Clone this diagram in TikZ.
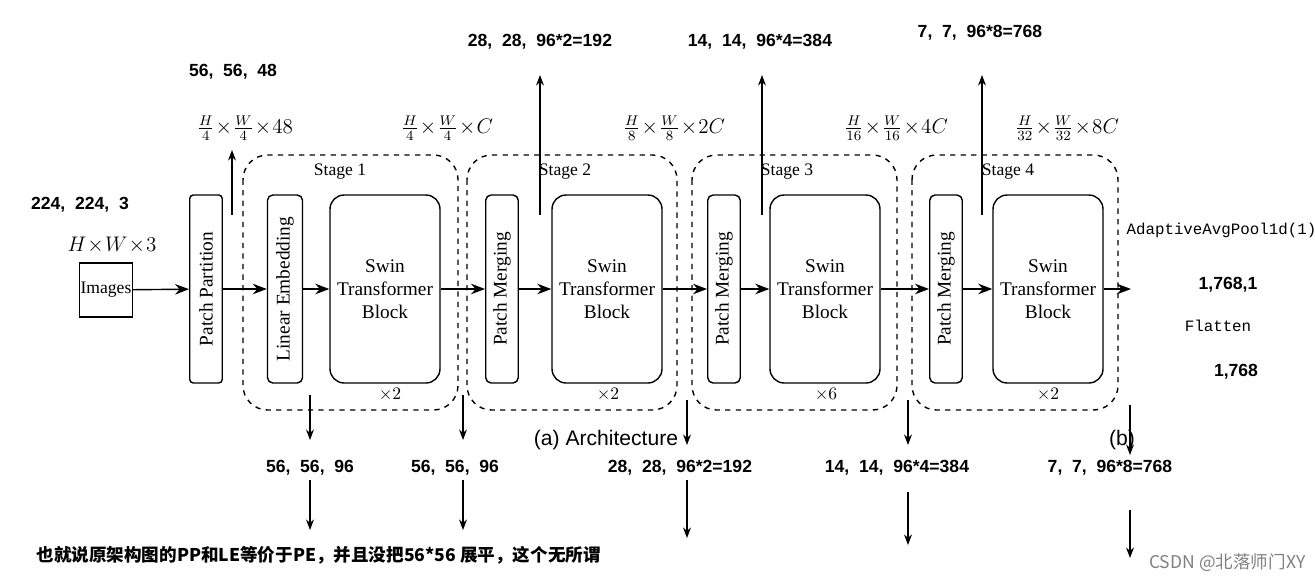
\documentclass[tikz,border=0pt]{standalone}
\usepackage{fontspec}
\newfontfamily\cjk{Noto Sans CJK SC}
\newfontfamily\lsans{Liberation Sans}
\newfontfamily\lmono{Liberation Mono}
\newfontfamily\lserif{Liberation Serif}
\usetikzlibrary{arrows.meta}

\begin{document}
\begin{tikzpicture}[x=0.02cm, y=-0.02cm, every path/.style={thick},
    blk/.style={draw, thick, rounded corners=3pt, inner sep=0pt, font=\lserif\fontsize{11}{13}\selectfont},
    thin/.style={blk, minimum width=0.65cm, minimum height=3.76cm},
    swin/.style={blk, minimum width=2.2cm, minimum height=3.76cm, rounded corners=8pt, align=center, text width=2.2cm},
    stage/.style={draw, thick, dashed, rounded corners=14pt},
    dim/.style={font=\bfseries\lsans},
    shp/.style={font=\lserif\fontsize{10}{12}\selectfont},
    arr/.style={-{Stealth[length=8pt]}},
    arrt/.style={-{Stealth[length=6pt]}, semithick}]
    \useasboundingbox (0,0) rectangle (1315,582);

    % stages
    \draw[stage] (243,155) rectangle (458,410);
    \draw[stage] (467,155) rectangle (677,410);
    \draw[stage] (692,155) rectangle (897,410);
    \draw[stage] (912,155) rectangle (1118,410);
    \node[shp] (s1) at (340,172) {Stage 1};
    \node[shp] (s2) at (565,172) {Stage 2};
    \node[shp] (s3) at (787,172) {Stage 3};
    \node[shp] (s4) at (1008,172) {Stage 4};

    % blocks
    \node[blk, sharp corners, minimum width=1.06cm, minimum height=1.08cm, font=\lserif\fontsize{10}{12}\selectfont] (img) at (106,290) {Images};
    \node[thin, rounded corners=2pt] (pp) at (206,289) {\rotatebox{90}{Patch Partition}};
    \node[thin, minimum width=0.7cm] (le) at (285,289) {\rotatebox{90}{Linear Embedding}};
    \node[swin] (sw1) at (385,289) {Swin\\Transformer\\Block};
    \node[thin] (pm2) at (502,289) {\rotatebox{90}{Patch Merging}};
    \node[swin] (sw2) at (607,289) {Swin\\Transformer\\Block};
    \node[thin] (pm3) at (724,289) {\rotatebox{90}{Patch Merging}};
    \node[swin] (sw3) at (825,289) {Swin\\Transformer\\Block};
    \node[thin] (pm4) at (946,289) {\rotatebox{90}{Patch Merging}};
    \node[swin] (sw4) at (1048,289) {Swin\\Transformer\\Block};
    \node[shp] (r1) at (390,395) {$\times2$};
    \node[shp] (r2) at (608,395) {$\times2$};
    \node[shp] (r3) at (826,395) {$\times6$};
    \node[shp] (r4) at (1048,395) {$\times2$};

    % main flow
    \coordinate (out) at (1131,289);
    \draw[arr] (img) -- (pp);
    \draw[arr] (pp) -- (le);
    \draw[arr] (le) -- (sw1);
    \draw[arr] (sw1) -- (pm2);
    \draw[arr] (pm2) -- (sw2);
    \draw[arr] (sw2) -- (pm3);
    \draw[arr] (pm3) -- (sw3);
    \draw[arr] (sw3) -- (pm4);
    \draw[arr] (pm4) -- (sw4);
    \draw[arr] (sw4) -- (out);

    % shapes
    \node[font=\large] (hw) at (112,245) {$H\!\times\!W\!\times\!3$};
    \node[font=\large] (f1) at (245,128) {$\frac{H}{4}\!\times\!\frac{W}{4}\!\times\!48$};
    \node[font=\large] (f2) at (447,128) {$\frac{H}{4}\!\times\!\frac{W}{4}\!\times\!C$};
    \node[font=\large] (f3) at (674,128) {$\frac{H}{8}\!\times\!\frac{W}{8}\!\times\!2C$};
    \node[font=\large] (f4) at (896,128) {$\frac{H}{16}\!\times\!\frac{W}{16}\!\times\!4C$};
    \node[font=\large] (f5) at (1067,128) {$\frac{H}{32}\!\times\!\frac{W}{32}\!\times\!8C$};

    % upward taps
    \foreach \n/\x/\y in {u1/232/150, u2/540/75, u3/762/75, u4/982/75} {
      \coordinate (\n a) at (\x,215);
      \coordinate (\n b) at (\x,\y);
      \draw[arrt] (\n a) -- (\n b);
    }
    \node[dim] (d0) at (80,205) {224,\ \ 224,\ \ 3};
    \node[dim] (d1) at (233,72) {56,\ \ 56,\ \ 48};
    \node[dim] (d2) at (540,42) {28,\ \ 28,\ \ 96*2=192};
    \node[dim] (d3) at (760,42) {14,\ \ 14,\ \ 96*4=384};
    \node[dim] (d4) at (980,33) {7,\ \ 7,\ \ 96*8=768};

    % downward taps
    \foreach \n/\x/\a/\b/\c/\d in {v1/310/395/440/480/530, v2/463/395/440/480/530, v3/687/400/445/480/538, v4/908/400/445/492/545, v5/1130/405/455/510/558} {
      \coordinate (\n a) at (\x,\a);
      \coordinate (\n b) at (\x,\b);
      \coordinate (\n c) at (\x,\c);
      \coordinate (\n d) at (\x,\d);
      \draw[arrt] (\n a) -- (\n b);
      \draw[arrt] (\n c) -- (\n d);
    }
    \node[dim] (e1) at (310,468) {56,\ \ 56,\ \ 96};
    \node[dim] (e2) at (455,468) {56,\ \ 56,\ \ 96};
    \node[dim] (e3) at (680,468) {28,\ \ 28,\ \ 96*2=192};
    \node[dim] (e4) at (897,468) {14,\ \ 14,\ \ 96*4=384};
    \node[dim] (e5) at (1110,468) {7,\ \ 7,\ \ 96*8=768};

    % captions and notes
    \node[font=\lsans\large] (cap) at (606,440) {(a) Architecture};
    \node[font=\lsans\large] (capb) at (1122,440) {(b)};
    \node[font=\lmono\small, anchor=west] (pool) at (1120,230) {AdaptiveAvgPool1d(1)};
    \node[dim] (o1) at (1228,285) {1,768,1};
    \node[font=\lmono\small] (fl) at (1218,326) {Flatten};
    \node[dim] (o2) at (1236,372) {1,768};
    \node[font=\cjk\bfseries, anchor=west] (note) at (30,555) {也就说原架构图的PP和LE等价于PE，并且没把56*56 展平，这个无所谓};
    \node[font=\cjk, text=gray, anchor=east] (wm) at (1312,563) {CSDN @北落师门XY};
\end{tikzpicture}
\end{document}
